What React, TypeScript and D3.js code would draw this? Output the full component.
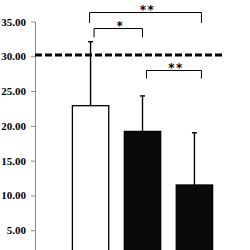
import React, { useEffect, useRef } from 'react';
import * as d3 from 'd3';

const groups = ['A', 'B', 'C'];
const means = [22.9, 19.2, 11.5];
const errors = [9.2, 5.1, 7.5];
const fills = ['#ffffff', '#0a0a0a', '#0a0a0a'];
const yTicks = [5, 10, 15, 20, 25, 30, 35];
const refValue = 30.2;

// significance brackets: from bar, to bar, label, top level, leg level
const sigFrom = [0, 0, 1];
const sigTo = [2, 1, 2];
const sigLabels = ['**', '*', '**'];
const sigTop = [36.4, 34.0, 28.0];
const sigLeg = [34.8, 32.7, 26.8];

const W = 250;
const H = 250;

export default function App() {
  const ref = useRef<SVGSVGElement>(null);

  useEffect(() => {
    const svg = d3.select(ref.current);
    svg.selectAll('*').remove();

    const y = d3.scaleLinear().domain([0, 35]).range([265, 21.5]);
    const x = d3.scaleBand()
      .domain(groups)
      .range([35, 250])
      .paddingInner(0.3)
      .paddingOuter(0.72);

    const cx = (i: number) => (x(groups[i]) as number) + x.bandwidth() / 2;

    // y axis
    const axis = svg.append('g')
      .attr('transform', 'translate(35,0)')
      .call(
        d3.axisLeft(y)
          .tickValues(yTicks)
          .tickFormat(d3.format('.2f'))
          .tickSize(4)
          .tickSizeOuter(0)
          .tickPadding(5)
      );
    axis.select('.domain').attr('stroke', '#8a8a8a');
    axis.selectAll('.tick line').attr('stroke', '#8a8a8a');
    axis.selectAll('.tick text')
      .attr('fill', '#000')
      .style('font-family', '"Liberation Serif", "Times New Roman", serif')
      .style('font-weight', 'bold')
      .style('font-size', '11px');

    // bars
    svg.append('g')
      .selectAll('rect')
      .data(means)
      .enter().append('rect')
      .attr('x', (d, i) => x(groups[i]) as number)
      .attr('y', d => y(d))
      .attr('width', x.bandwidth())
      .attr('height', d => y(0) - y(d))
      .attr('fill', (d, i) => fills[i])
      .attr('stroke', '#000')
      .attr('stroke-width', 1.3);

    // upper error bars
    const eb = svg.append('g').attr('stroke', '#000').attr('stroke-width', 1.4);
    means.forEach((m, i) => {
      eb.append('line')
        .attr('x1', cx(i)).attr('x2', cx(i))
        .attr('y1', y(m)).attr('y2', y(m + errors[i]));
      eb.append('line')
        .attr('x1', cx(i) - 2.5).attr('x2', cx(i) + 2.5)
        .attr('y1', y(m + errors[i])).attr('y2', y(m + errors[i]));
    });

    // dashed reference line
    svg.append('line')
      .attr('x1', 35).attr('x2', 222)
      .attr('y1', y(refValue)).attr('y2', y(refValue))
      .attr('stroke', '#000')
      .attr('stroke-width', 3)
      .attr('stroke-dasharray', '7,3');

    // significance brackets
    const leftOff = [-1, 3.5, 4];
    const rightOff = [7, 0, 7];
    const br = svg.append('g');
    sigLabels.forEach((lab, i) => {
      const x1 = cx(sigFrom[i]) + leftOff[i];
      const x2 = cx(sigTo[i]) + rightOff[i];
      const yt = Math.round(y(sigTop[i])) + 0.5;
      const yl = y(sigLeg[i]);
      br.append('path')
        .attr('d', `M${x1},${yl}V${yt}H${x2}V${yl}`)
        .attr('fill', 'none')
        .attr('stroke', '#000')
        .attr('stroke-width', 1);
      br.append('text')
        .attr('x', (x1 + x2) / 2 + 2)
        .attr('y', yt + 1.5)
        .attr('text-anchor', 'middle')
        .attr('fill', '#000')
        .style('font-family', '"DejaVu Sans", sans-serif')
        .style('font-weight', 'bold')
        .style('font-size', '12px')
        .style('letter-spacing', '1.5px')
        .text(lab);
    });
  }, []);

  return (
    <svg
      ref={ref}
      width={W}
      height={H}
      style={{ position: 'absolute', left: 0, top: 0, background: '#fff' }}
    />
  );
}
